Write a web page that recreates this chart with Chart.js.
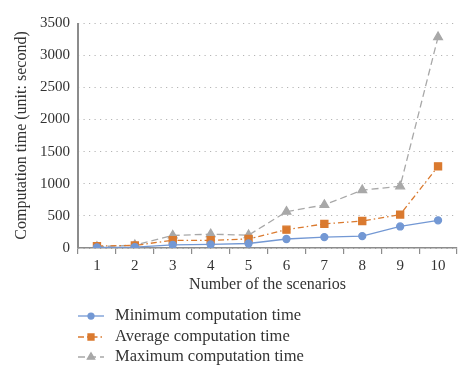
<!DOCTYPE html>
<html>
<head>
<meta charset="utf-8">
<script src="https://cdn.jsdelivr.net/npm/chart.js@4"></script>
<style>
html,body{margin:0;padding:0;background:#fff;}
#wrap{width:474px;height:382px;position:relative;}
</style>
</head>
<body>
<div id="wrap"><canvas id="c" width="474" height="382"></canvas></div>
<script>
const categories = ['1','2','3','4','5','6','7','8','9','10'];
const minTime = [10, 15, 50, 55, 70, 140, 170, 185, 335, 430];
const avgTime = [30, 40, 120, 120, 140, 285, 375, 420, 520, 1270];
const maxTime = [20, 45, 195, 215, 200, 565, 670, 900, 960, 3280];
const seriesLabels = ['Minimum computation time', 'Average computation time', 'Maximum computation time'];
const yTitle = 'Computation time (unit: second)';
const xTitle = 'Number of the scenarios';

const textColor = '#333333';
const serif = "'Liberation Serif', 'DejaVu Serif', serif";

const legendPlugin = {
  id: 'vertLegend',
  afterDraw(chart) {
    const ctx = chart.ctx;
    const x0 = 78, x1 = 104, xm = 91, xt = 115;
    const rows = [316, 337, 357];
    ctx.save();
    chart.data.datasets.forEach((ds, i) => {
      const y = rows[i];
      ctx.strokeStyle = ds.borderColor;
      ctx.lineWidth = ds.borderWidth;
      ctx.setLineDash(ds.borderDash || []);
      ctx.beginPath();
      ctx.moveTo(x0, y);
      ctx.lineTo(x1, y);
      ctx.stroke();
      ctx.setLineDash([]);
      ctx.fillStyle = ds.pointBackgroundColor;
      ctx.strokeStyle = ds.pointBorderColor;
      Chart.helpers.drawPoint(ctx, {pointStyle: ds.pointStyle, radius: ds.pointRadius * 0.85, rotation: 0, borderWidth: 1}, xm, y);
      ctx.fillStyle = textColor;
      ctx.font = "16.5px " + serif;
      ctx.textBaseline = 'middle';
      ctx.textAlign = 'left';
      ctx.fillText(ds.label, xt, y);
    });
    ctx.restore();
  }
};

const yAxisLine = {
  id: 'yAxisLine',
  beforeDatasetsDraw(chart) {
    const {ctx, chartArea} = chart;
    ctx.save();
    ctx.strokeStyle = '#8c8c8c';
    ctx.lineWidth = 2;
    ctx.setLineDash([]);
    ctx.beginPath();
    ctx.moveTo(chartArea.left, chartArea.top);
    ctx.lineTo(chartArea.left, chartArea.bottom);
    ctx.stroke();
    ctx.restore();
  }
};

new Chart(document.getElementById('c'), {
  type: 'line',
  data: {
    labels: categories,
    datasets: [
      {label: seriesLabels[0], data: minTime, borderColor: '#7398d4', backgroundColor: '#7398d4',
       pointBackgroundColor: '#7398d4', pointBorderColor: '#7398d4', borderWidth: 1.3,
       pointStyle: 'circle', pointRadius: 3.5, borderDash: []},
      {label: seriesLabels[1], data: avgTime, borderColor: '#da7a2f', backgroundColor: '#da7a2f',
       pointBackgroundColor: '#da7a2f', pointBorderColor: '#da7a2f', borderWidth: 1.3,
       pointStyle: 'rect', pointRadius: 5, borderDash: [6, 3, 1.5, 3]},
      {label: seriesLabels[2], data: maxTime, borderColor: '#a8a8a8', backgroundColor: '#a8a8a8',
       pointBackgroundColor: '#a8a8a8', pointBorderColor: '#a8a8a8', borderWidth: 1.3,
       pointStyle: 'triangle', pointRadius: 5, borderDash: [7, 4]}
    ]
  },
  options: {
    responsive: false,
    animation: false,
    layout: {padding: {left: 8, top: 23, right: 17, bottom: 84}},
    plugins: {legend: {display: false}, tooltip: {enabled: false}},
    elements: {line: {tension: 0}},
    scales: {
      x: {
        offset: true,
        grid: {display: true, drawOnChartArea: false, drawTicks: true, tickLength: 6, color: '#8c8c8c', offset: true, lineWidth: 1.2},
        border: {display: true, color: '#8c8c8c', width: 1.5},
        ticks: {color: textColor, font: {family: serif, size: 15}, padding: 3, maxRotation: 0},
        title: {display: true, text: xTitle, color: textColor, font: {family: serif, size: 16}, padding: {top: 4, bottom: 4}},
        afterFit(s) { s.height = 50; }
      },
      y: {
        min: 0, max: 3500,
        ticks: {stepSize: 500, color: textColor, font: {family: serif, size: 15}, padding: 8,
                callback: (v) => String(v)},
        grid: {color: '#b5b5b5', drawTicks: false, lineWidth: 1},
        border: {display: false, dash: [1.2, 4.3]},
        title: {display: true, text: yTitle, color: textColor, font: {family: serif, size: 16}, padding: {top: 4, bottom: 4}},
        afterFit(s) { s.width = 70; }
      }
    }
  },
  plugins: [yAxisLine, legendPlugin]
});
</script>
</body>
</html>
